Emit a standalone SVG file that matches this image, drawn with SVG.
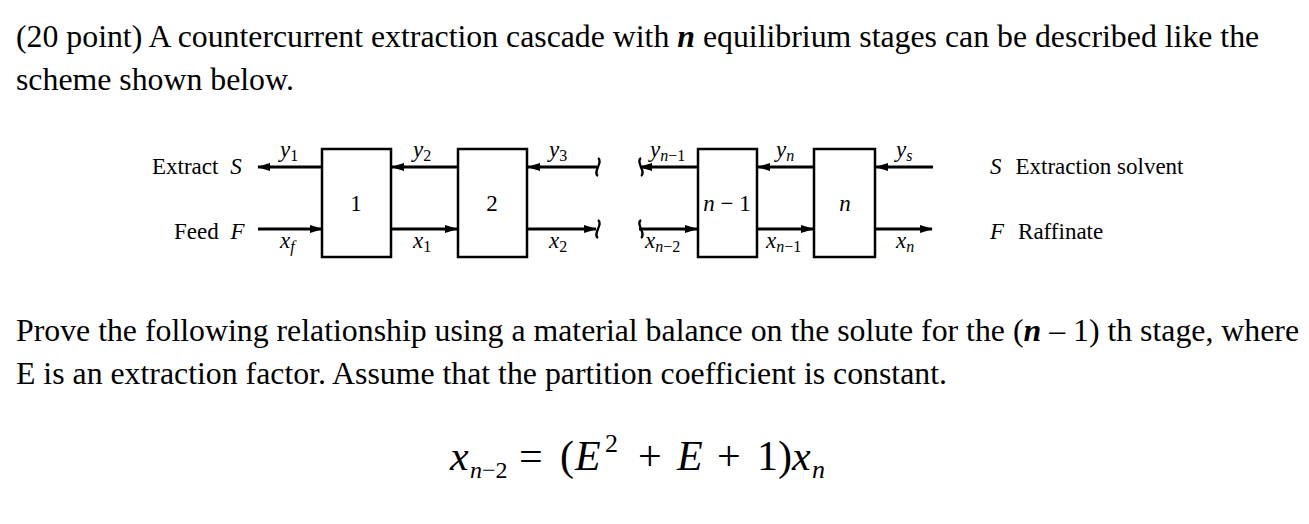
<svg xmlns="http://www.w3.org/2000/svg" width="1309" height="524" viewBox="0 0 1309 524">
<style>
.t{font-family:"Liberation Serif",serif;font-size:31.8px;fill:#000}
.d{font-family:"Liberation Serif",serif;font-size:23px;fill:#000}
.i{font-style:italic}
.s{font-size:16px}
.box{fill:#fff;stroke:#000;stroke-width:2.5}
.ln{stroke:#000;stroke-width:3;fill:none;marker-end:url(#a)}
.sq{stroke:#000;stroke-width:2.2;fill:none}
</style>
<defs><marker id="a" markerWidth="13" markerHeight="8" refX="12" refY="4" orient="auto" markerUnits="userSpaceOnUse"><path d="M0,0 L13,4 L0,8 Z" fill="#000"/></marker></defs>
<rect width="1309" height="524" fill="#fff"/>
<text class="t" x="16" y="47">(20 point) A countercurrent extraction cascade with <tspan class="i" font-weight="bold">n</tspan> equilibrium stages can be described like the</text>
<text class="t" x="16" y="90">scheme shown below.</text>
<g id="connectors">
<line class="ln" x1="322" y1="167" x2="258" y2="167"/>
<line class="ln" x1="258" y1="229" x2="322" y2="229"/>
<line class="ln" x1="458" y1="167" x2="392" y2="167"/>
<line class="ln" x1="391" y1="229" x2="457" y2="229"/>
<line class="ln" x1="597" y1="167" x2="528" y2="167"/>
<line class="ln" x1="527" y1="229" x2="596" y2="229"/>
<path class="sq" d="M598,158 C604,162 592,172 598,176"/>
<path class="sq" d="M598,220 C604,224 592,234 598,238"/>
<line class="ln" x1="698" y1="167" x2="640" y2="167"/>
<line class="ln" x1="639" y1="229" x2="697" y2="229"/>
<path class="sq" d="M641,158 C635,162 647,172 641,176"/>
<path class="sq" d="M641,220 C635,224 647,234 641,238"/>
<line class="ln" x1="814" y1="167" x2="758" y2="167"/>
<line class="ln" x1="757" y1="229" x2="813" y2="229"/>
<line class="ln" x1="933" y1="167" x2="876" y2="167"/>
<line class="ln" x1="875" y1="229" x2="932" y2="229"/>
</g>
<g id="stage1"><rect class="box" x="322" y="149" width="69" height="108"/><text class="d" x="356" y="211" text-anchor="middle">1</text></g>
<g id="stage2"><rect class="box" x="458" y="149" width="69" height="108"/><text class="d" x="492" y="211" text-anchor="middle">2</text></g>
<g id="stagen1"><rect class="box" x="698" y="149" width="59" height="108"/><text class="d" x="727" y="211" text-anchor="middle"><tspan class="i">n</tspan> − 1</text></g>
<g id="stagen"><rect class="box" x="814" y="149" width="61" height="108"/><text class="d i" x="845" y="211" text-anchor="middle">n</text></g>
<g id="labels">
<text class="d" x="152" y="174">Extract <tspan class="i" dx="6">S</tspan></text>
<text class="d" x="174" y="239">Feed <tspan class="i" dx="6">F</tspan></text>
<text class="d i" x="280" y="157">y<tspan class="s" font-style="normal" dy="4">1</tspan></text>
<text class="d i" x="280" y="248">x<tspan class="s" dy="4">f</tspan></text>
<text class="d i" x="413" y="157">y<tspan class="s" font-style="normal" dy="4">2</tspan></text>
<text class="d i" x="413" y="248">x<tspan class="s" font-style="normal" dy="4">1</tspan></text>
<text class="d i" x="549" y="157">y<tspan class="s" font-style="normal" dy="4">3</tspan></text>
<text class="d i" x="549" y="248">x<tspan class="s" font-style="normal" dy="4">2</tspan></text>
<text class="d i" x="650" y="157">y<tspan class="s" dy="4">n</tspan><tspan class="s" font-style="normal">−1</tspan></text>
<text class="d i" x="645" y="248">x<tspan class="s" dy="4">n</tspan><tspan class="s" font-style="normal">−2</tspan></text>
<text class="d i" x="776" y="157">y<tspan class="s" dy="4">n</tspan></text>
<text class="d i" x="766" y="248">x<tspan class="s" dy="4">n</tspan><tspan class="s" font-style="normal">−1</tspan></text>
<text class="d i" x="896" y="157">y<tspan class="s" dy="4">s</tspan></text>
<text class="d i" x="896" y="248">x<tspan class="s" dy="4">n</tspan></text>
<text class="d" x="990" y="174"><tspan class="i">S</tspan><tspan dx="14">Extraction solvent</tspan></text>
<text class="d" x="990" y="239"><tspan class="i">F</tspan><tspan dx="14">Raffinate</tspan></text>
</g>
<text class="t" x="16" y="341">Prove the following relationship using a material balance on the solute for the (<tspan class="i" font-weight="bold">n</tspan> – 1) th stage, where</text>
<text class="t" x="16" y="384">E is an extraction factor. Assume that the partition coefficient is constant.</text>
<g font-family="Liberation Serif, serif" font-size="42" fill="#000">
<text x="450" y="470" class="i">x</text>
<text x="470" y="478" font-size="24"><tspan class="i">n</tspan>−2</text>
<text x="519" y="470">=</text>
<text x="560" y="470">(</text>
<text x="575" y="470" class="i">E</text>
<text x="605" y="452" font-size="26">2</text>
<text x="638" y="470">+</text>
<text x="677" y="470" class="i">E</text>
<text x="717" y="470">+</text>
<text x="757" y="470">1)</text>
<text x="792" y="470" class="i">x</text>
<text x="812" y="478" font-size="26" class="i">n</text>
</g>
</svg>
